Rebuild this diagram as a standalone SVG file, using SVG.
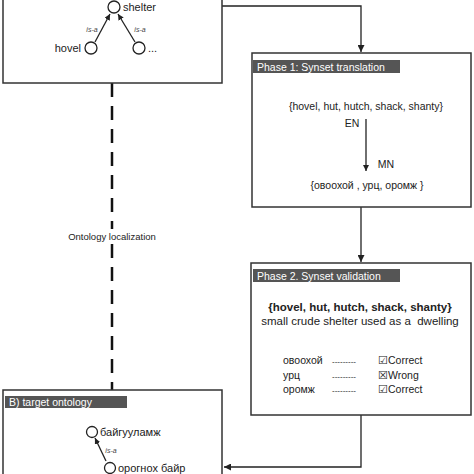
<svg xmlns="http://www.w3.org/2000/svg" width="474" height="474" viewBox="0 0 474 474">
<defs>
<marker id="ah" viewBox="0 0 10 10" refX="10" refY="5" markerWidth="7" markerHeight="7" markerUnits="userSpaceOnUse" orient="auto"><path d="M0,0 L10,5 L0,10 z" fill="#222"/></marker>
<marker id="ahs" viewBox="0 0 10 10" refX="10" refY="5" markerWidth="6" markerHeight="6" markerUnits="userSpaceOnUse" orient="auto"><path d="M0,0 L10,5 L0,10 z" fill="#222"/></marker>
</defs>
<style>
text{font-family:"Liberation Sans","Open Sans",Arial,sans-serif;fill:#222}
.box{fill:#fff;stroke:#333;stroke-width:1.5}
.hdr{fill:#555}
.ht{fill:#fff;font-size:10.5px}
.con{fill:none;stroke:#222;stroke-width:1.3}
.node{fill:#fff;stroke:#222;stroke-width:1.3}
.lbl{font-size:11px}
.isa{font-size:7px;font-style:italic;fill:#444}
.t{font-size:10.5px}
</style>
<rect width="474" height="474" fill="#fff"/>
<g id="connectors">
<path class="con" d="M222,6 H361 V52" marker-end="url(#ah)"/>
<path class="con" d="M361,207 V262" marker-end="url(#ah)"/>
<path class="con" d="M361,415 V467 H224" marker-end="url(#ah)"/>
<line x1="112" y1="83" x2="112" y2="390" stroke="#111" stroke-width="2.5" stroke-dasharray="14 9"/>
<rect x="66" y="229" width="92" height="14" fill="#fff"/>
<text x="112" y="239.5" text-anchor="middle" style="font-size:9.5px">Ontology localization</text>
</g>
<g id="source-ontology">
<rect class="box" x="3" y="-5" width="219" height="88"/>
<line class="con" x1="95" y1="42" x2="110" y2="14" marker-end="url(#ahs)"/>
<line class="con" x1="135" y1="42" x2="118" y2="14" marker-end="url(#ahs)"/>
<circle class="node" cx="114" cy="7" r="6"/>
<circle class="node" cx="91" cy="48" r="6"/>
<circle class="node" cx="139" cy="48" r="6"/>
<text class="lbl" x="123" y="11">shelter</text>
<text class="lbl" x="81" y="52" text-anchor="end">hovel</text>
<text class="lbl" x="148" y="52">...</text>
<text class="isa" x="92" y="32" text-anchor="middle">is-a</text>
<text class="isa" x="140" y="32" text-anchor="middle">is-a</text>
</g>
<g id="phase1">
<rect class="box" x="252" y="53" width="219" height="154"/>
<rect class="hdr" x="253" y="60" width="147" height="13"/>
<text class="ht" x="257" y="70.5">Phase 1: Synset translation</text>
<text class="t" x="366" y="110" text-anchor="middle">{hovel, hut, hutch, shack, shanty}</text>
<text class="t" x="352" y="127" text-anchor="middle">EN</text>
<line class="con" x1="366" y1="119" x2="366" y2="171" marker-end="url(#ahs)"/>
<text class="t" x="386" y="168" text-anchor="middle">MN</text>
<text class="t" x="367" y="189" text-anchor="middle">{овоохой , урц, оромж }</text>
</g>
<g id="phase2">
<rect class="box" x="251" y="263" width="220" height="152"/>
<rect class="hdr" x="253" y="269" width="147" height="13"/>
<text class="ht" x="257" y="279.5">Phase 2. Synset validation</text>
<text x="360" y="311" text-anchor="middle" style="font-size:11.5px;font-weight:bold">{hovel, hut, hutch, shack, shanty}</text>
<text x="360" y="325" text-anchor="middle" style="font-size:11.5px">small crude shelter used as a&#160; dwelling</text>
<text class="t" x="283" y="364">овоохой</text>
<text class="t" x="332" y="364" style="font-size:8px">---------</text>
<text class="t" x="378" y="364">☑Correct</text>
<text class="t" x="283" y="379">урц</text>
<text class="t" x="332" y="379" style="font-size:8px">---------</text>
<text class="t" x="378" y="379">☒Wrong</text>
<text class="t" x="283" y="393">оромж</text>
<text class="t" x="332" y="393" style="font-size:8px">---------</text>
<text class="t" x="378" y="393">☑Correct</text>
</g>
<g id="target-ontology">
<rect class="box" x="3" y="390" width="219" height="100"/>
<rect class="hdr" x="5" y="396" width="122" height="12"/>
<text class="ht" x="9" y="405.5">B) target ontology</text>
<line class="con" x1="106" y1="461" x2="95" y2="438" marker-end="url(#ahs)"/>
<circle class="node" cx="92" cy="432" r="5.5"/>
<circle class="node" cx="110" cy="468" r="5.5"/>
<text class="lbl" x="100" y="436">байгууламж</text>
<text class="isa" x="111" y="453" text-anchor="middle">is-a</text>
<text class="lbl" x="118" y="472">орогнох байр</text>
</g>
</svg>
